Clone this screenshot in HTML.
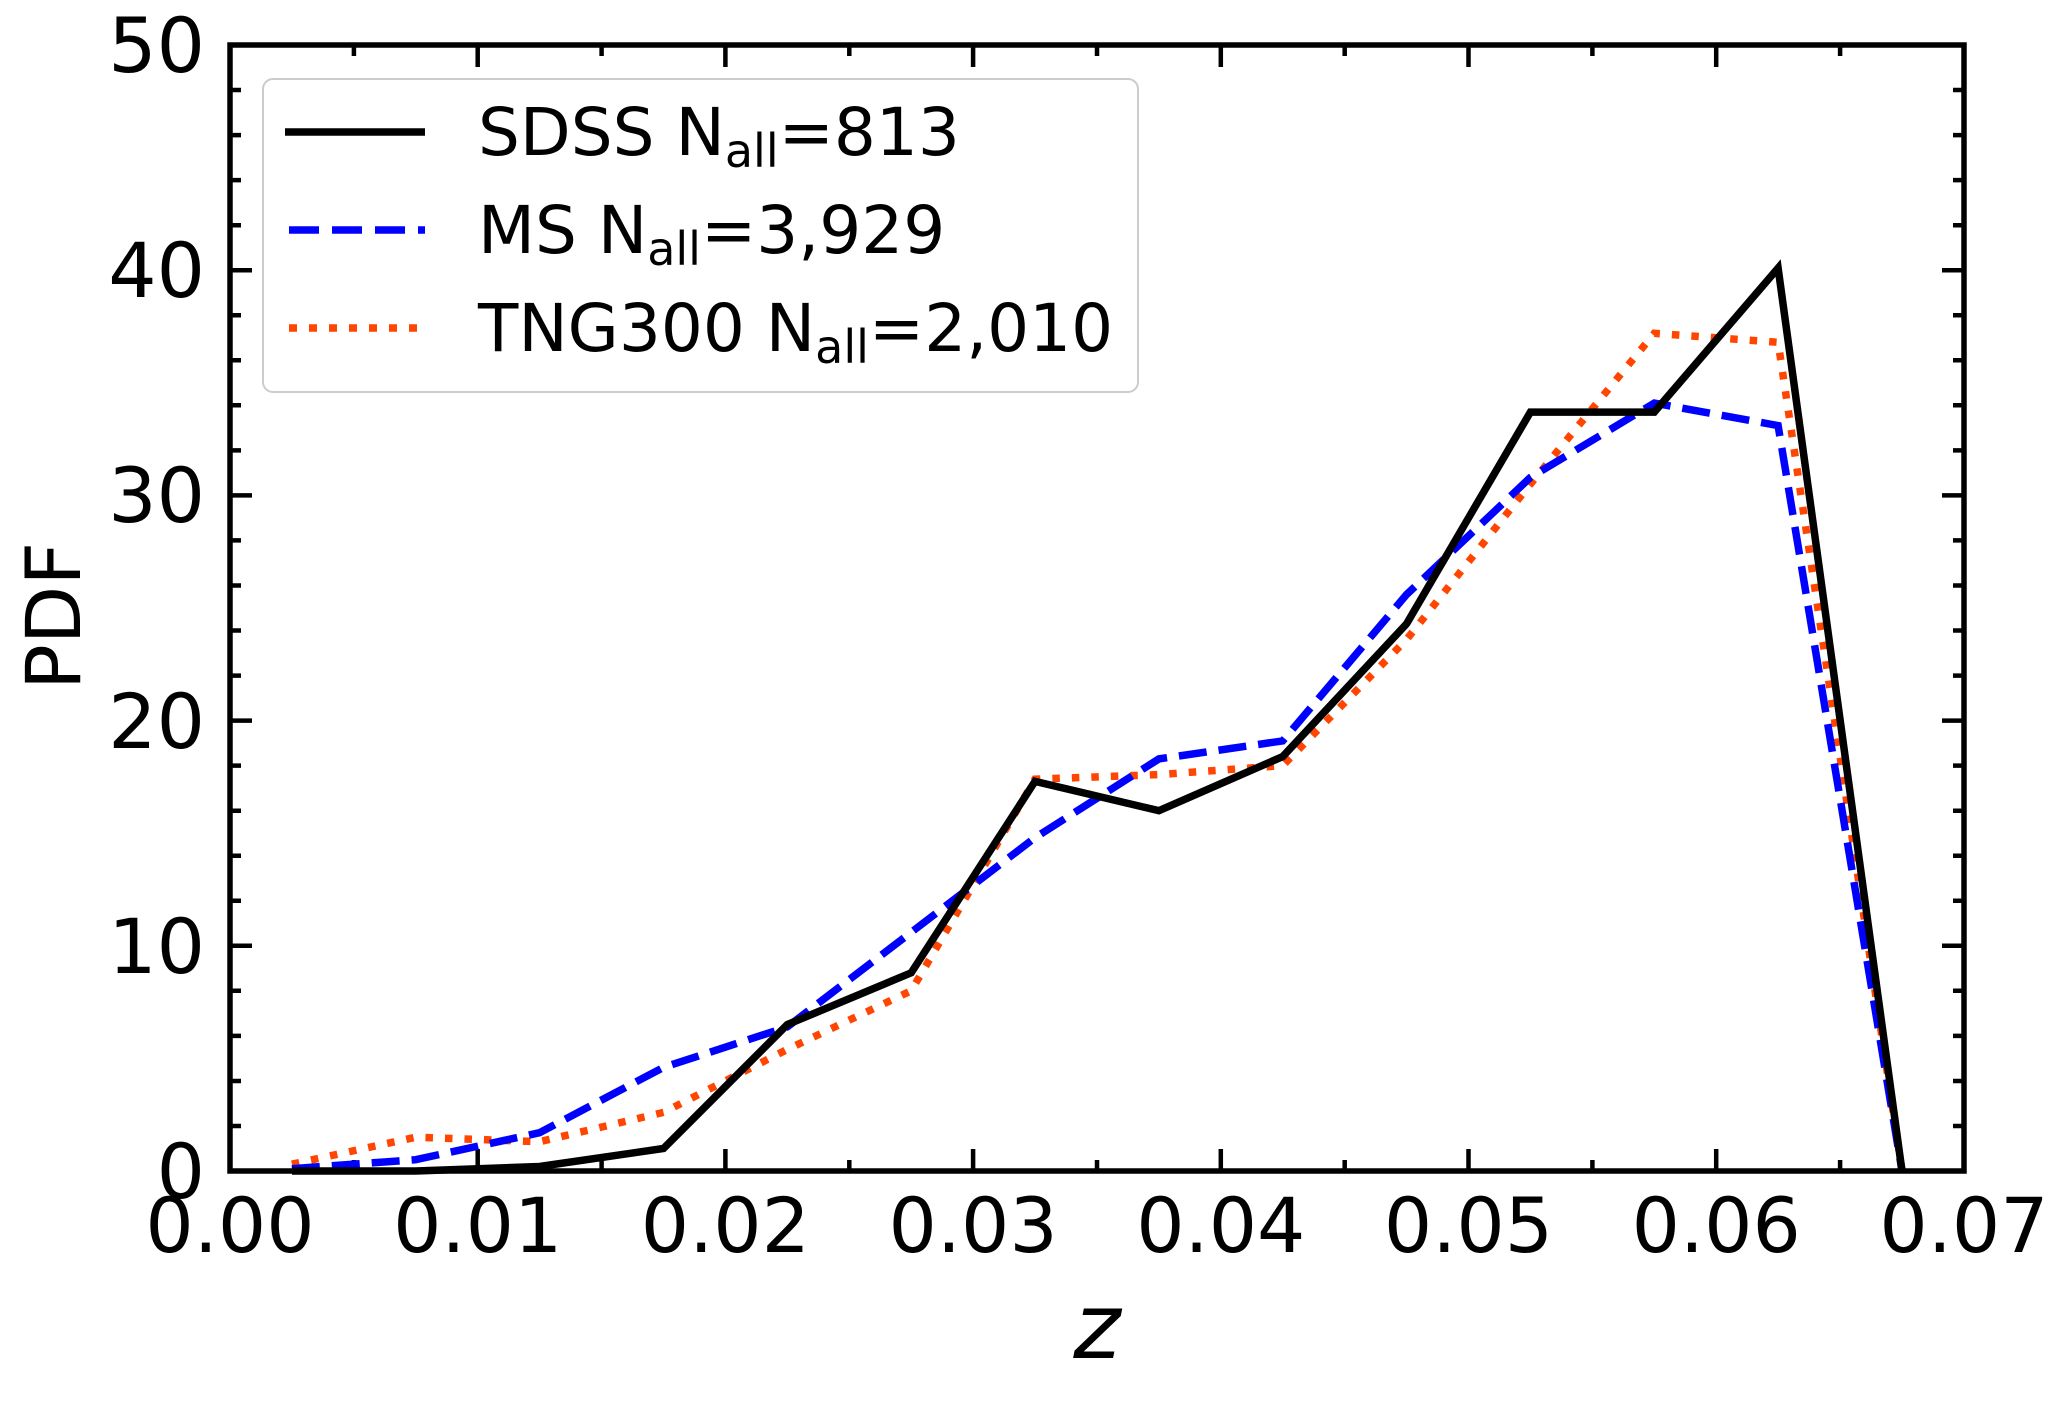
<!DOCTYPE html>
<html><head><meta charset="utf-8"><style>
html,body{margin:0;padding:0;background:#fff;}
svg{display:block;}
text{font-family:"DejaVu Sans","Liberation Sans",sans-serif;fill:#000;}
</style></head><body>
<svg width="2067" height="1401" viewBox="0 0 2067 1401" xmlns="http://www.w3.org/2000/svg">
<rect width="2067" height="1401" fill="#fff"/>
<g stroke="#000" stroke-width="4.5">
<path d="M230 1171v-22M477.7 1171v-22M725.4 1171v-22M973.1 1171v-22M1220.8 1171v-22M1468.5 1171v-22M1716.2 1171v-22M1964 1171v-22
M230 45v22M477.7 45v22M725.4 45v22M973.1 45v22M1220.8 45v22M1468.5 45v22M1716.2 45v22M1964 45v22"/>
<path d="M353.9 1171v-11M601.6 1171v-11M849.3 1171v-11M1097 1171v-11M1344.7 1171v-11M1592.4 1171v-11M1840.1 1171v-11
M353.9 45v11M601.6 45v11M849.3 45v11M1097 45v11M1344.7 45v11M1592.4 45v11M1840.1 45v11"/>
<path d="M230 1171h22M230 945.8h22M230 720.6h22M230 495.4h22M230 270.2h22M230 45h22
M1964 1171h-22M1964 945.8h-22M1964 720.6h-22M1964 495.4h-22M1964 270.2h-22M1964 45h-22"/>
<path d="M230 1126h11M230 1081h11M230 1035.9h11M230 990.8h11M230 900.8h11M230 855.7h11M230 810.7h11M230 765.6h11M230 675.6h11M230 630.5h11M230 585.5h11M230 540.4h11M230 450.4h11M230 405.3h11M230 360.3h11M230 315.2h11M230 225.2h11M230 180.1h11M230 135.1h11M230 90h11
M1964 1126h-11M1964 1081h-11M1964 1035.9h-11M1964 990.8h-11M1964 900.8h-11M1964 855.7h-11M1964 810.7h-11M1964 765.6h-11M1964 675.6h-11M1964 630.5h-11M1964 585.5h-11M1964 540.4h-11M1964 450.4h-11M1964 405.3h-11M1964 360.3h-11M1964 315.2h-11M1964 225.2h-11M1964 180.1h-11M1964 135.1h-11M1964 90h-11"/>
</g>
<g fill="none" stroke-width="7.5" stroke-linejoin="miter">
<polyline stroke="#ff4500" stroke-dasharray="7.5 12" points="291.9,1164.2 415.8,1137.2 539.6,1141.7 663.5,1112.4 787.3,1049.4 911.2,990.8 1035,779.2 1158.9,774.6 1282.7,765.6 1406.6,639.5 1530.4,484.1 1654.3,333.3 1778.1,342.3 1902,1171"/>
<polyline stroke="#0000ff" stroke-dasharray="28 12" points="291.9,1168.7 415.8,1159.7 539.6,1132.7 663.5,1067.4 787.3,1026.9 911.2,932.3 1035,837.7 1158.9,758.9 1282.7,740.9 1406.6,594.5 1530.4,477.4 1654.3,403.1 1778.1,425.6 1902,1171"/>
<polyline stroke="#000" points="291.9,1171 415.8,1171 539.6,1166.5 663.5,1148.5 787.3,1024.6 911.2,972.8 1035,781.4 1158.9,810.7 1282.7,756.6 1406.6,623.8 1530.4,412.1 1654.3,412.1 1778.1,268 1902,1171"/>
</g>
<rect x="230" y="45" width="1734" height="1126" fill="none" stroke="#000" stroke-width="5.5"/>
<g font-size="76" text-anchor="end">
<text x="205" y="1198">0</text><text x="205" y="973">10</text><text x="205" y="748">20</text><text x="205" y="522">30</text><text x="205" y="297">40</text><text x="205" y="72">50</text>
</g>
<g font-size="76" text-anchor="middle">
<text x="230" y="1252">0.00</text><text x="477.7" y="1252">0.01</text><text x="725.4" y="1252">0.02</text><text x="973.1" y="1252">0.03</text><text x="1220.8" y="1252">0.04</text><text x="1468.5" y="1252">0.05</text><text x="1716.2" y="1252">0.06</text><text x="1964" y="1252">0.07</text>
</g>
<text x="1097" y="1358" font-size="90" font-style="italic" text-anchor="middle">z</text>
<text transform="translate(80,616) rotate(-90)" font-size="76" text-anchor="middle">PDF</text>
<rect x="263" y="79" width="875" height="313" rx="10" fill="#fff" fill-opacity="0.8" stroke="#ccc" stroke-width="2"/>
<line x1="285" y1="132" x2="425" y2="132" stroke="#000" stroke-width="7.5"/>
<line x1="289" y1="230" x2="425" y2="230" stroke="#0000ff" stroke-width="7.5" stroke-dasharray="30 13"/>
<line x1="289" y1="328" x2="425" y2="328" stroke="#ff4500" stroke-width="7.5" stroke-dasharray="8 12"/>
<g font-size="66">
<text x="478" y="155">SDSS N<tspan font-size="46" dy="12">all</tspan><tspan dy="-12">=813</tspan></text>
<text x="478" y="253">MS N<tspan font-size="46" dy="12">all</tspan><tspan dy="-12">=3,929</tspan></text>
<text x="478" y="351">TNG300 N<tspan font-size="46" dy="12">all</tspan><tspan dy="-12">=2,010</tspan></text>
</g>
</svg>
</body></html>
